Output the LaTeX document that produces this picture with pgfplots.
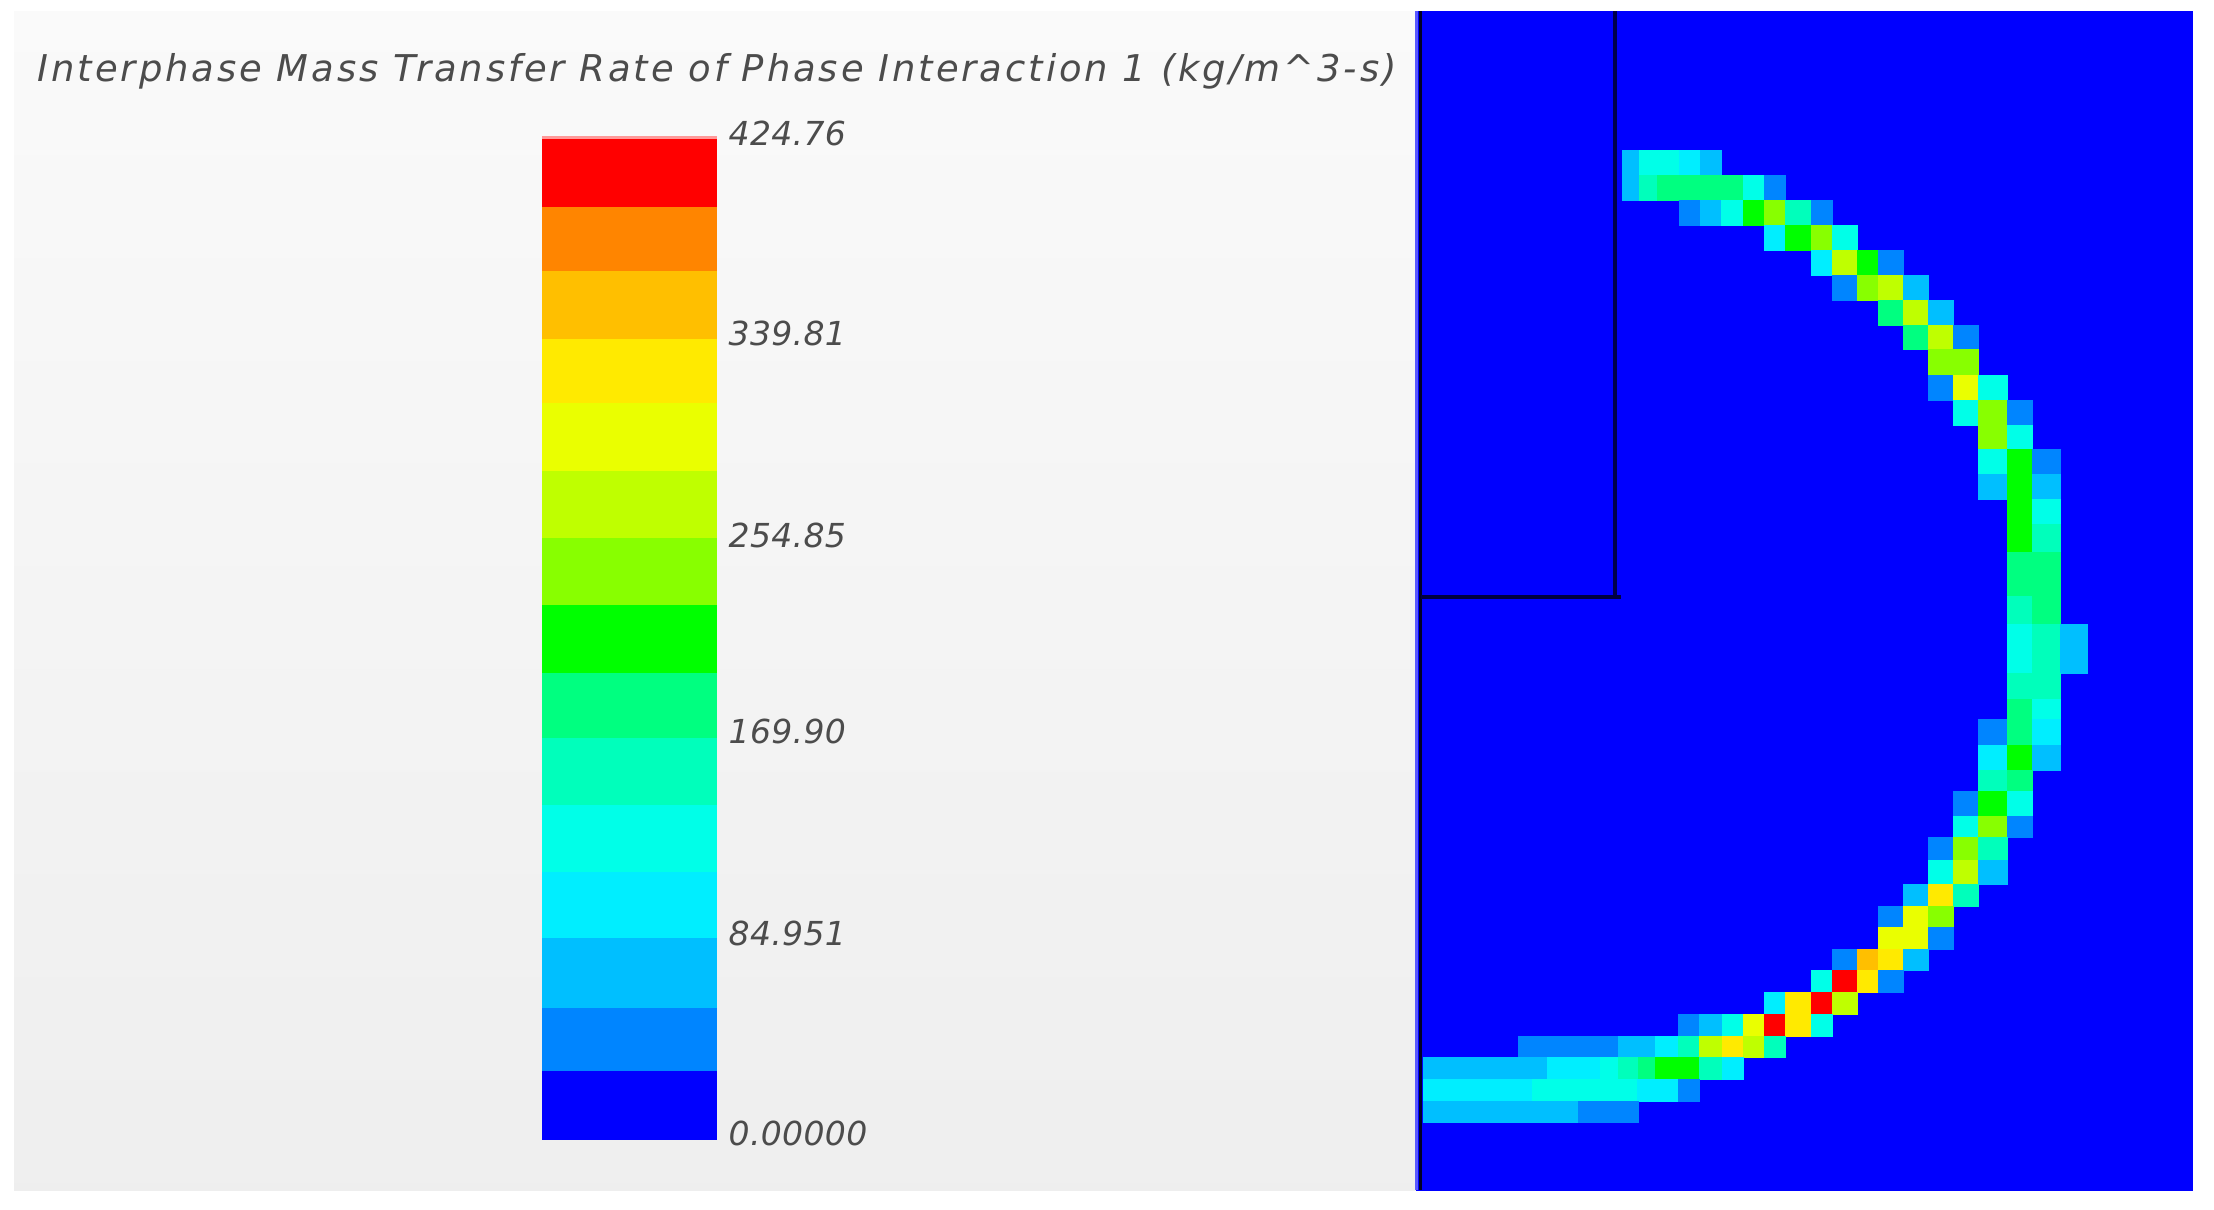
\documentclass[border=0pt]{standalone}
\usepackage{fontspec}
\setmainfont{DejaVu Sans}
\usepackage{pgfplots}
\pgfplotsset{compat=1.18}

% contour levels, low to high
\definecolor{L0}{HTML}{0000FF}
\definecolor{L1}{HTML}{0085FF}
\definecolor{L2}{HTML}{00BFFF}
\definecolor{L3}{HTML}{00EEFF}
\definecolor{L4}{HTML}{00FFE8}
\definecolor{L5}{HTML}{00FFBB}
\definecolor{L6}{HTML}{00FF80}
\definecolor{L7}{HTML}{00FF00}
\definecolor{L8}{HTML}{88FF00}
\definecolor{L9}{HTML}{BFFF00}
\definecolor{L10}{HTML}{EAFF00}
\definecolor{L11}{HTML}{FFEA00}
\definecolor{L12}{HTML}{FFBF00}
\definecolor{L13}{HTML}{FF8500}
\definecolor{L14}{HTML}{FF0000}

% \R{y0}{y1} sets the current mesh row, \C{level}{x0}{x1} fills one cell in it
\newcommand\R[2]{\def\ya{#1}\def\yb{#2}}
\newcommand\C[3]{\edef\tmp{\noexpand\addplot[fill=#1,draw=#1,line width=0.2pt] coordinates {(#2,\ya)(#3,\ya)(#3,\yb)(#2,\yb)} --cycle;}\tmp}
\newcommand\V[2]{\node[anchor=west,text=black!70,font=\fontsize{9.4}{10}\selectfont\itshape\addfontfeatures{LetterSpace=1},inner sep=0pt] at (axis cs:728,#1) {#2};}

\begin{document}
\begin{tikzpicture}
\begin{axis}[
  at={(0,0)}, anchor=south west,
  width=22.14cm, height=12.09cm, scale only axis,
  xmin=0, xmax=2214, ymin=0, ymax=1209, y dir=reverse,
  hide axis,
]
\addplot[fill=white,draw=none] coordinates {(0,0)(2214,0)(2214,1209)(0,1209)} --cycle;
% left panel
\addplot[top color=white!98!black,bottom color=white!93.5!black,draw=none] coordinates {(14,11)(1416,11)(1416,1190)(14,1190)} --cycle;

% colour bar
\R{136}{139}\C{L14!40!white}{542}{716.5}
\R{139}{207}\C{L14}{542}{716.5}
\R{207}{271}\C{L13}{542}{716.5}
\R{271}{339}\C{L12}{542}{716.5}
\R{339}{403}\C{L11}{542}{716.5}
\R{403}{471}\C{L10}{542}{716.5}
\R{471}{538}\C{L9}{542}{716.5}
\R{538}{605}\C{L8}{542}{716.5}
\R{605}{673}\C{L7}{542}{716.5}
\R{673}{738}\C{L6}{542}{716.5}
\R{738}{805}\C{L5}{542}{716.5}
\R{805}{872}\C{L4}{542}{716.5}
\R{872}{938}\C{L3}{542}{716.5}
\R{938}{1008}\C{L2}{542}{716.5}
\R{1008}{1071}\C{L1}{542}{716.5}
\R{1071}{1139}\C{L0}{542}{716.5}

% contour field
\R{11}{1190}\C{L0}{1416}{2192}

\R{150}{175}\C{L2}{1622}{1639}\C{L4}{1639}{1679}\C{L3}{1679}{1700}\C{L2}{1700}{1721}
\R{175}{200}\C{L2}{1622}{1639}\C{L5}{1639}{1657}\C{L6}{1657}{1743}\C{L4}{1743}{1764}\C{L1}{1764}{1785}
\R{200}{225}\C{L1}{1679}{1700}\C{L2}{1700}{1721}\C{L4}{1721}{1743}\C{L7}{1743}{1764}\C{L8}{1764}{1785}\C{L5}{1785}{1811}\C{L1}{1811}{1832}
\R{225}{250}\C{L3}{1764}{1785}\C{L7}{1785}{1811}\C{L8}{1811}{1832}\C{L4}{1832}{1857}
\R{250}{275}\C{L3}{1811}{1832}\C{L9}{1832}{1857}\C{L7}{1857}{1878}\C{L1}{1878}{1903}
\R{275}{300}\C{L1}{1832}{1857}\C{L8}{1857}{1878}\C{L9}{1878}{1903}\C{L2}{1903}{1928}
\R{300}{325}\C{L6}{1878}{1903}\C{L9}{1903}{1928}\C{L2}{1928}{1953}
\R{325}{349}\C{L6}{1903}{1928}\C{L9}{1928}{1953}\C{L1}{1953}{1978}
\R{349}{375}\C{L8}{1928}{1978}
\R{375}{400}\C{L1}{1928}{1953}\C{L10}{1953}{1978}\C{L4}{1978}{2007}
\R{400}{425}\C{L4}{1953}{1978}\C{L8}{1978}{2007}\C{L1}{2007}{2032}
\R{425}{449}\C{L8}{1978}{2007}\C{L4}{2007}{2032}
\R{449}{474}\C{L4}{1978}{2007}\C{L7}{2007}{2032}\C{L1}{2032}{2060}
\R{474}{499}\C{L2}{1978}{2007}\C{L7}{2007}{2032}\C{L2}{2032}{2060}
\R{499}{524}\C{L7}{2007}{2032}\C{L4}{2032}{2060}
\R{524}{552}\C{L7}{2007}{2032}\C{L5}{2032}{2060}
\R{552}{596}\C{L6}{2007}{2060}
\R{596}{624}\C{L5}{2007}{2032}\C{L6}{2032}{2060}
\R{624}{673}\C{L4}{2007}{2032}\C{L5}{2032}{2060}\C{L2}{2060}{2087}
\R{673}{699}\C{L5}{2007}{2060}
\R{699}{719}\C{L6}{2007}{2032}\C{L4}{2032}{2060}
\R{719}{745}\C{L1}{1978}{2007}\C{L6}{2007}{2032}\C{L3}{2032}{2060}
\R{745}{770}\C{L3}{1978}{2007}\C{L7}{2007}{2032}\C{L2}{2032}{2060}
\R{770}{791}\C{L5}{1978}{2007}\C{L6}{2007}{2032}
\R{791}{816}\C{L1}{1953}{1978}\C{L7}{1978}{2007}\C{L4}{2007}{2032}
\R{816}{837}\C{L4}{1953}{1978}\C{L8}{1978}{2007}\C{L1}{2007}{2032}
\R{837}{860}\C{L1}{1928}{1953}\C{L8}{1953}{1978}\C{L5}{1978}{2007}
\R{860}{884}\C{L4}{1928}{1953}\C{L9}{1953}{1978}\C{L2}{1978}{2007}
\R{884}{906}\C{L2}{1903}{1928}\C{L11}{1928}{1953}\C{L5}{1953}{1978}
\R{906}{927}\C{L1}{1878}{1903}\C{L10}{1903}{1928}\C{L8}{1928}{1953}
\R{927}{949}\C{L10}{1878}{1928}\C{L1}{1928}{1953}
\R{949}{970}\C{L1}{1832}{1857}\C{L12}{1857}{1878}\C{L11}{1878}{1903}\C{L2}{1903}{1928}
\R{970}{992}\C{L4}{1811}{1832}\C{L14}{1832}{1857}\C{L11}{1857}{1878}\C{L1}{1878}{1903}
\R{992}{1014}\C{L3}{1764}{1785}\C{L11}{1785}{1811}\C{L14}{1811}{1832}\C{L9}{1832}{1857}
\R{1014}{1036}\C{L1}{1678}{1699}\C{L2}{1699}{1722}\C{L4}{1722}{1743}\C{L10}{1743}{1764}\C{L14}{1764}{1785}\C{L11}{1785}{1811}\C{L4}{1811}{1832}
\R{1036}{1057}\C{L1}{1518}{1618}\C{L2}{1618}{1655}\C{L3}{1655}{1678}\C{L5}{1678}{1699}\C{L9}{1699}{1722}\C{L11}{1722}{1743}\C{L9}{1743}{1764}\C{L5}{1764}{1785}
\R{1057}{1079}\C{L2}{1423}{1547}\C{L3}{1547}{1600}\C{L4}{1600}{1618}\C{L5}{1618}{1638}\C{L6}{1638}{1655}\C{L7}{1655}{1699}\C{L5}{1699}{1722}\C{L3}{1722}{1743}
\R{1079}{1101}\C{L3}{1423}{1532}\C{L4}{1532}{1637}\C{L3}{1637}{1678}\C{L1}{1678}{1699}
\R{1101}{1122}\C{L2}{1423}{1578}\C{L1}{1578}{1638}

% walls of the domain
\addplot[color=blue!65!white,line width=0.9pt] coordinates {(1416.5,11)(1416.5,1190)};
\addplot[color=black!85!blue,line width=1.1pt] coordinates {(1420.5,11)(1420.5,1190)};
\addplot[color=black!70!blue,line width=1.4pt] coordinates {(1615,11)(1615,597)};
\addplot[color=black!75!blue,line width=0.9pt] coordinates {(1421,597)(1621,597)};

% labels
\node[anchor=west,text=black!70,font=\fontsize{10.5}{11}\selectfont\itshape\addfontfeatures{LetterSpace=8},inner sep=0pt] at (axis cs:37,71) {Interphase Mass Transfer Rate of Phase Interaction 1 (kg/m\^{}3-s)};
\V{133.5}{424.76}
\V{333.5}{339.81}
\V{535}{254.85}
\V{731}{169.90}
\V{933}{84.951}
\V{1133.5}{0.00000}
\end{axis}
\end{tikzpicture}
\end{document}
